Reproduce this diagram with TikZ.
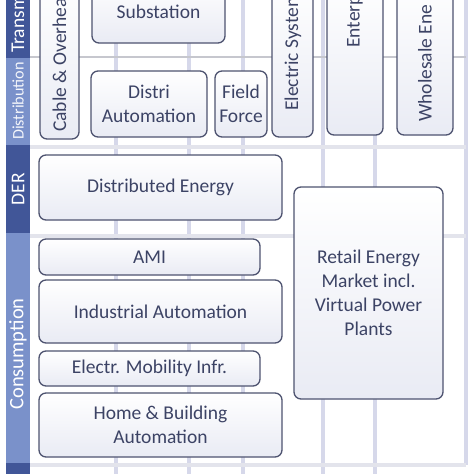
\documentclass[tikz,border=0pt]{standalone}
\usepackage{fontspec}
\setmainfont{Carlito}
\definecolor{darkbar}{HTML}{415698}
\definecolor{lightbar}{HTML}{7A91CA}
\definecolor{txt}{HTML}{3C4365}
\definecolor{edge}{HTML}{4E5370}
\definecolor{gridv}{HTML}{D6D8EA}
\definecolor{gridh}{HTML}{E3E4EC}
\definecolor{gridt}{HTML}{C6C7CE}
\definecolor{boxbot}{HTML}{E9EBF4}
\begin{document}
\begin{tikzpicture}[x=1pt,y=-1pt,
  box/.style={draw=edge, line width=1.3pt, rounded corners=7pt, top color=white, bottom color=boxbot,
    text=txt, align=center, font=\fontsize{19.5}{24}\selectfont, inner sep=0pt, outer sep=0pt},
  vtext/.style={rotate=90, anchor=west, inner sep=0pt, text=txt, font=\fontsize{19.5}{24}\selectfont},
  sidetext/.style={rotate=90, inner sep=0pt, text=white, font=\fontsize{19.5}{24}\selectfont},
  gv/.style={draw=gridv, line width=4pt},
  gh/.style={draw=gridh, line width=3.5pt}
]
\useasboundingbox (0,0) rectangle (474,474);
\clip (0,0) rectangle (474,474);
\fill[white] (0,0) rectangle (474,474);

% grid
\foreach \gx in {116,189,243,323,375} \draw[gv] (\gx,0) -- (\gx,474);
\draw[gv] (466,0) -- (466,465);
\draw[gridt, line width=1.5pt] (30,57) -- (466,57);
\draw[gh] (30,147) -- (466,147);
\draw[gh] (30,236) -- (466,236);
\draw[gh] (30,465) -- (466,465);

% sidebar
\fill[darkbar] (6,0) rectangle (30,58);
\fill[lightbar] (6,58) rectangle (30,145);
\fill[darkbar] (6,145) rectangle (30,233);
\fill[lightbar] (6,233) rectangle (30,463);
\fill[darkbar] (6,463) rectangle (30,474);
\node[sidetext, anchor=west] (ltrans) at (18,53) {Transm};
\node[sidetext, font=\fontsize{16.2}{20}\selectfont, text=white!92!lightbar] (ldist) at (18,101) {Distribution};
\node[sidetext] (lder) at (18,189) {DER};
\node[sidetext, font=\fontsize{20.5}{24}\selectfont] (lcons) at (18,354) {Consumption};

% boxes
\node[box, minimum width=133pt, minimum height=63pt] (sub) at (158.5,11.5) {Substation};
\node[box, minimum width=39pt, minimum height=159pt] (cable) at (59.5,59.5) {};
\node[vtext] (cablet) at (59.5,132) {Cable \& Overhead};
\node[box, minimum width=116pt, minimum height=66pt] (distri) at (149,104) {Distri\\Automation};
\node[box, minimum width=52pt, minimum height=66pt] (field) at (241,104) {Field\\Force};
\node[box, minimum width=41pt, minimum height=157pt] (elec) at (292.5,58.5) {};
\node[vtext] (elect) at (293,111) {Electric System};
\node[box, minimum width=56pt, minimum height=155pt] (ent) at (355,57.5) {};
\node[vtext] (entt) at (355,48) {Enterp};
\node[box, minimum width=56pt, minimum height=155pt] (whole) at (425,57.5) {};
\node[vtext] (wholet) at (425,122) {Wholesale Ene};

\node[box, minimum width=243pt, minimum height=65pt] (der) at (160.5,187.5) {Distributed Energy};
\node[box, minimum width=221pt, minimum height=36pt] (ami) at (149.5,257) {AMI};
\node[box, minimum width=243pt, minimum height=63pt] (ind) at (160.5,311.5) {Industrial Automation};
\node[box, minimum width=221pt, minimum height=35pt] (mob) at (149.5,368.5) {Electr. Mobility Infr.};
\node[box, minimum width=243pt, minimum height=64pt] (home) at (160.5,425) {Home \& Building\\Automation};
\node[box, minimum width=149pt, minimum height=212pt] (retail) at (368.5,293) {Retail Energy\\Market incl.\\Virtual Power\\Plants};
\end{tikzpicture}
\end{document}
